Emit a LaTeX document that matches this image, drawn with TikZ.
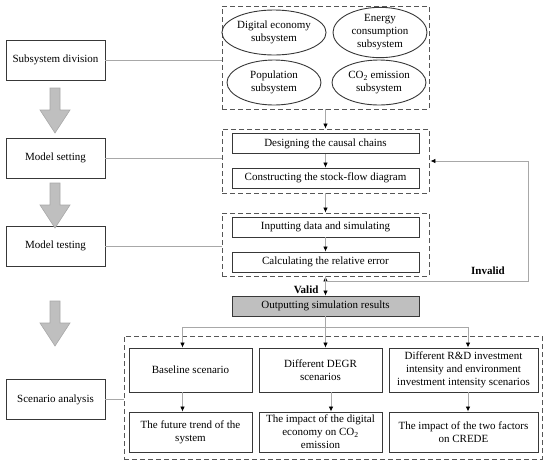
\documentclass[tikz,border=0pt]{standalone}
\usepackage{fontspec}
\setmainfont{Liberation Serif}
\usepackage{tikz}
\usetikzlibrary{arrows.meta,shapes.geometric,positioning}

\definecolor{linegray}{HTML}{A8A8A8}
\definecolor{fillgray}{HTML}{BFBFBF}
\definecolor{boxline}{HTML}{383838}

\begin{document}
\begin{tikzpicture}[x=1pt,y=-1pt,>={Latex[length=5pt,width=4.5pt,black]},
    font=\fontsize{11}{13}\selectfont,
    box/.style={draw=boxline,line width=0.9pt,align=center,inner sep=1pt},
    stage/.style={box,minimum width=99pt,minimum height=40pt},
    task/.style={box,minimum width=187pt,minimum height=20pt},
    scen/.style={box,minimum height=44pt},
    res/.style={box,minimum height=40pt},
    sub/.style={ellipse,draw=boxline,line width=0.9pt,align=center,
        minimum width=94pt,minimum height=45pt,inner sep=0pt},
    group/.style={draw=boxline!85,line width=0.9pt,dash pattern=on 5pt off 3pt,
        inner sep=0pt},
    link/.style={draw=linegray,line width=0.8pt},
    garrow/.style={fill=fillgray,draw=linegray,line width=0.6pt}]

\useasboundingbox (0,0) rectangle (550,467);

% left column
\node[stage] (division) at (55.5,60) {Subsystem division};
\node[stage] (setting) at (55.5,158) {Model setting};
\node[stage] (testing) at (55.5,246) {Model testing};
\node[stage] (analysis) at (55.5,399.5) {Scenario analysis};

\foreach \y in {88,183,301}
  \filldraw[garrow] (50,\y) -- (60,\y) -- (60,\y+22) -- (70,\y+22)
    -- (55,\y+45) -- (40,\y+22) -- (50,\y+22) -- cycle;

% dashed groups
\node[group,minimum width=207pt,minimum height=103pt] (subsys) at (325.5,57.5) {};
\node[group,minimum width=207pt,minimum height=64pt] (build) at (325.5,161) {};
\node[group,minimum width=207pt,minimum height=63pt] (check) at (325.5,244.5) {};
\node[group,minimum width=418pt,minimum height=123pt] (scenarios) at (333,397.5) {};

% subsystems
\node[sub] (digital) at (274,32.5) {Digital economy\\subsystem};
\node[sub] (energy) at (380,32.5) {Energy\\consumption\\subsystem};
\node[sub] (population) at (274,82.5) {Population\\subsystem};
\node[sub] (emission) at (379,82.5) {CO\textsubscript{2} emission\\subsystem};

% model building and testing
\node[task] (causal) at (325.5,143.5) {Designing the causal chains};
\node[task] (stock) at (325.5,178) {Constructing the stock-flow diagram};
\node[task] (input) at (325.5,227) {Inputting data and simulating};
\node[task] (error) at (325.5,262) {Calculating the relative error};
\node[task,fill=fillgray] (output) at (325.5,306) {Outputting simulation results};

% scenarios
\node[scen,minimum width=123pt] (baseline) at (190.5,370) {Baseline scenario};
\node[scen,minimum width=123pt] (degr) at (320.5,370) {Different DEGR\\scenarios};
\node[scen,minimum width=149pt] (invest) at (463.5,370)
  {Different R\&D investment\\intensity and environment\\investment intensity scenarios};
\node[res,minimum width=123pt] (trend) at (190.5,432) {The future trend of the\\system};
\node[res,minimum width=123pt] (impact) at (320.5,432)
  {The impact of the digital\\economy on CO\textsubscript{2}\\emission};
\node[res,minimum width=149pt] (factors) at (463.5,432) {The impact of the two factors\\on CREDE};

\node[font=\fontsize{11}{13}\selectfont\bfseries,anchor=east] (valid) at (322,290) {Valid};
\node[font=\fontsize{11}{13}\selectfont\bfseries] (invalid) at (488,271) {Invalid};

\coordinate (fb) at (325.5,281);
\coordinate (corner) at (528,281);
\coordinate (split) at (325.5,327);

% connectors
\path[link]
  (division.east) -- (subsys.west |- division.east)
  (setting.east) -- (build.west |- setting.east)
  (testing.east) -- (check.west |- testing.east)
  (analysis.east) -- (scenarios.west |- analysis.east);

\path[link,->] (subsys.south) edge (build.north)
  (causal) edge (stock)
  (build.south) edge (check.north)
  (input) edge (error)
  (check.south) edge (output.north);
\draw[link,->] (fb) -- (corner) |- ([xshift=1pt]build.east);
\draw[link] (output.south) -- (split);
\draw[link,->] (split) -| ([xshift=-8pt]baseline.north);
\draw[link,->] (split) -- ([xshift=5pt]degr.north |- split) -- ([xshift=5pt]degr.north);
\draw[link,->] (split) -| ([xshift=4.5pt]invest.north);
\draw[link,->] ([xshift=-8pt]baseline.south) -- ([xshift=-8pt]trend.north);
\draw[link,->] ([xshift=10.5pt]degr.south) -- ([xshift=10.5pt]impact.north);
\draw[link,->] ([xshift=4.5pt]invest.south) -- ([xshift=4.5pt]factors.north);

\end{tikzpicture}
\end{document}
